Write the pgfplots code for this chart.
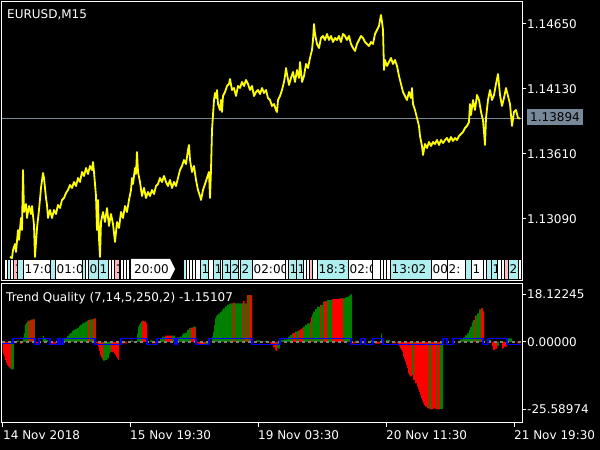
\documentclass[border=0pt]{standalone}
\usepackage{pgfplots}
\pgfplotsset{compat=1.18}
\usepackage{fontspec}
\setmainfont{DejaVu Sans}
\definecolor{mtgreen}{HTML}{008000}
\definecolor{mtred}{HTML}{FF0000}
\definecolor{mtblue}{HTML}{0000FF}
\definecolor{slate}{HTML}{778899}
\definecolor{pturq}{HTML}{AFEEEE}
\definecolor{lpink}{HTML}{FFB6C1}
\definecolor{mtyellow}{HTML}{FFFF00}
\newcommand{\mtfont}{\fontsize{12}{14}\selectfont}
\newcommand{\mtbox}[4]{%
 \begin{scope}
 \clip (#1pt,171pt) rectangle (#2pt,191pt);
 \fill[#3] (#1pt,171pt) rectangle (#2pt,191pt);
 \node[anchor=base west, inner sep=0pt, font=\mtfont, text=black] at (#1pt+1.5pt,176pt) {#4};
 \end{scope}
 \draw[black, line width=0.8pt] (#1pt,171pt) rectangle (#2pt,191pt);}
\begin{document}
\begin{tikzpicture}
\fill[black] (0,0) rectangle (600pt,450pt);
% ---------------- main price panel
\begin{axis}[
  at={(2pt,169pt)}, anchor=south west, scale only axis,
  width=520pt, height=279pt,
  xmin=2, xmax=522, ymin=1.12594, ymax=1.14826,
  axis line style={white, line width=1pt},
  xtick=\empty,
  ytick={1.1309,1.1361,1.1413,1.1465},
  yticklabels={1.13090,1.13610,1.14130,1.14650},
  ytick pos=right, yticklabel pos=right,
  tick align=outside, major tick length=4pt,
  tick style={white, line width=1pt},
  yticklabel style={font=\mtfont, text=white, anchor=west, inner sep=0pt, xshift=1pt},
]
\addplot[slate, line width=1pt] coordinates {(2,1.13894) (522,1.13894)};
\addplot[mtyellow, line width=1.8pt, line join=round] coordinates {
(10,1.12786)(12,1.12778)(13,1.12842)(15,1.12890)(16,1.12826)(18,1.13002)(19,1.12922)(21,1.13098)(22,1.13002)(23,1.13482)
(24,1.13146)(26,1.13210)(27,1.13098)(29,1.13194)(31,1.13130)(32,1.13194)(34,1.13042)(35,1.12786)(37,1.13018)(39,1.13162)
(41,1.13338)(43,1.13458)(44,1.13418)(46,1.13258)(47,1.13202)(48,1.13098)(50,1.13162)(52,1.13098)(54,1.13162)(56,1.13130)
(58,1.13202)(60,1.13178)(62,1.13242)(64,1.13258)(66,1.13298)(68,1.13322)(70,1.13362)(72,1.13338)(74,1.13386)(76,1.13354)
(78,1.13418)(80,1.13386)(82,1.13466)(84,1.13434)(86,1.13498)(88,1.13450)(90,1.13514)(92,1.13482)(93,1.13546)(94,1.13466)
(96,1.13274)(97,1.13002)(98,1.13242)(99,1.12938)(100,1.12786)(101,1.13066)(103,1.13146)(105,1.13066)(107,1.13178)(109,1.13034)
(111,1.13130)(113,1.13050)(115,1.12906)(117,1.13066)(119,1.13018)(121,1.13146)(123,1.13098)(125,1.13194)(127,1.13146)(129,1.13242)
(131,1.13322)(132,1.13418)(133,1.13370)(135,1.13498)(136,1.13450)(137,1.13626)(138,1.13466)(140,1.13386)(142,1.13274)(144,1.13338)
(146,1.13258)(148,1.13306)(150,1.13274)(152,1.13322)(154,1.13290)(156,1.13354)(158,1.13370)(160,1.13418)(162,1.13386)(164,1.13434)
(166,1.13386)(168,1.13354)(170,1.13402)(172,1.13338)(174,1.13386)(176,1.13354)(178,1.13418)(180,1.13482)(182,1.13514)(184,1.13562)
(186,1.13530)(188,1.13642)(189,1.13682)(190,1.13562)(192,1.13466)(194,1.13514)(196,1.13402)(198,1.13322)(200,1.13274)(201,1.13242)
(203,1.13322)(205,1.13370)(207,1.13418)(209,1.13466)(210,1.13258)(211,1.13482)(212,1.13802)(213,1.13922)(214,1.14042)(215,1.14098)
(216,1.14058)(217,1.14122)(218,1.14010)(220,1.13962)(221,1.14042)(222,1.13946)(223,1.14074)(225,1.14106)(227,1.14154)(229,1.14170)
(230,1.14210)(232,1.14122)(234,1.14138)(236,1.14074)(238,1.14154)(240,1.14138)(242,1.14186)(244,1.14154)(246,1.14202)(248,1.14170)
(250,1.14122)(252,1.14154)(254,1.14074)(256,1.14106)(258,1.14122)(260,1.14090)(262,1.14138)(264,1.14098)(266,1.14122)(268,1.14058)
(270,1.14042)(272,1.13994)(274,1.14010)(276,1.13962)(277,1.13946)(278,1.14042)(280,1.14074)(282,1.14122)(284,1.14186)(285,1.14234)
(286,1.14298)(287,1.14250)(289,1.14162)(291,1.14218)(293,1.14266)(295,1.14186)(297,1.14282)(299,1.14218)(300,1.14346)(302,1.14186)
(304,1.14234)(306,1.14330)(308,1.14298)(310,1.14378)(312,1.14442)(313,1.14522)(314,1.14650)(315,1.14570)(317,1.14490)(319,1.14458)
(321,1.14538)(323,1.14554)(325,1.14522)(327,1.14570)(329,1.14522)(331,1.14554)(333,1.14506)(335,1.14538)(337,1.14522)(339,1.14554)
(341,1.14506)(343,1.14570)(345,1.14554)(347,1.14522)(349,1.14554)(351,1.14490)(353,1.14458)(355,1.14434)(357,1.14490)(359,1.14522)
(361,1.14554)(363,1.14538)(365,1.14506)(367,1.14490)(369,1.14474)(371,1.14506)(373,1.14490)(375,1.14570)(377,1.14602)(379,1.14634)
(380,1.14682)(381,1.14722)(382,1.14666)(383,1.14602)(384,1.14282)(385,1.14362)(387,1.14314)(389,1.14346)(391,1.14378)(393,1.14330)
(395,1.14362)(397,1.14314)(399,1.14234)(401,1.14170)(403,1.14106)(405,1.14074)(407,1.14042)(409,1.14106)(411,1.14058)(412,1.14138)
(413,1.14010)(415,1.13962)(417,1.13898)(419,1.13834)(420,1.13754)(422,1.13674)(423,1.13602)(425,1.13690)(427,1.13658)(429,1.13706)
(431,1.13674)(433,1.13706)(435,1.13690)(437,1.13722)(439,1.13682)(441,1.13722)(443,1.13698)(445,1.13722)(447,1.13738)(449,1.13706)
(451,1.13746)(453,1.13714)(455,1.13738)(457,1.13722)(459,1.13754)(461,1.13770)(463,1.13786)(465,1.13818)(467,1.13834)(469,1.13866)
(470,1.14010)(471,1.13922)(473,1.14042)(475,1.13962)(477,1.14082)(479,1.14042)(481,1.13946)(483,1.13882)(484,1.13786)(485,1.13682)
(486,1.13898)(488,1.14042)(490,1.14122)(492,1.14042)(494,1.14082)(496,1.14170)(498,1.14250)(500,1.14082)(502,1.13994)(504,1.14058)
(506,1.14138)(508,1.14074)(510,1.14010)(512,1.13834)(514,1.13946)(516,1.13962)(518,1.13898)(520,1.13894)};
\end{axis}
% ---------------- indicator panel
\begin{axis}[
  at={(2pt,27pt)}, anchor=south west, scale only axis,
  width=520pt, height=140pt,
  xmin=2, xmax=522, ymin=-30.78, ymax=22.42,
  axis line style={white, line width=1pt},
  xtick={3,130,258,386,514},
  xticklabels={14 Nov 2018,15 Nov 19:30,19 Nov 03:30,20 Nov 11:30,21 Nov 19:30},
  xtick pos=bottom,
  xticklabel style={font=\mtfont, text=white, anchor=north west, inner sep=0pt, yshift=-3pt},
  ytick={-25.58974,0,18.12245},
  yticklabels={-25.58974,0.00000,18.12245},
  ytick pos=right, yticklabel pos=right,
  tick align=outside, major tick length=4pt,
  tick style={white, line width=1pt},
  yticklabel style={font=\mtfont, text=white, anchor=west, inner sep=0pt, xshift=1pt},
]
\addplot[const plot, fill=mtgreen, draw=none] coordinates {
(11,-10.4)(14,0)(16,0.5)(19,0)(23,1.8)(24,3.3)(25,6.5)(26,7.2)(27,7.7)(28,8.0)(30,8.4)(32,8.5)(33,8.6)(35,0)
(43,2.3)(44,1.5)(46,0.8)(48,0)(63,1.0)(65,1.6)(67,2.3)(69,3.0)(70,3.5)(72,4.1)(73,4.6)(75,5.0)(77,5.4)(79,6.0)
(80,6.5)(82,7.0)(83,7.3)(85,7.7)(87,8.1)(89,8.4)(90,8.6)(93,8.8)(95,9.0)(96,0)(103,-7.1)(105,-6.8)(107,-6.2)
(109,-4.5)(110,-3.7)(111,0)(130,0.5)(133,0)(137,3.3)(138,5.8)(139,6.6)(140,7.3)(141,7.7)(142,8.0)(144,7.7)(146,7.0)
(147,0)(150,0.6)(152,0)(160,1.2)(162,2.0)(165,2.2)(172,2.4)(175,0)(177,1.8)(180,2.0)(182,2.8)(183,3.3)(185,3.6)
(187,4.6)(189,5.2)(190,5.4)(193,5.8)(196,0)(205,-1.1)(208,0)(212,2.0)(213,3.9)(214,6.5)(215,9.0)(216,9.8)(217,10.3)
(218,10.8)(220,11.5)(222,12.3)(223,12.8)(225,13.5)(227,14.1)(229,14.5)(230,14.7)(247,17.8)(252,0)(256,0.6)(260,0)
(265,0.4)(268,0)(277,-2.4)(280,0.8)(284,1.0)(288,2.0)(290,2.6)(292,3.3)(295,3.9)(297,4.2)(300,4.6)(303,5.8)(305,6.5)
(307,7.1)(310,7.7)(311,9.0)(312,10.5)(313,11.5)(315,12.5)(317,13.4)(320,14.1)(323,15.3)(327,15.9)(333,16.3)(340,16.6)
(345,17.0)(347,17.2)(349,17.6)(350,18.12245)(352,0)(355,0.5)(358,0)(370,0.6)(373,0)(381,3.3)(382,0)(386,0.8)(390,0)
(460,1.0)(463,1.8)(465,2.5)(467,3.3)(469,4.5)(470,5.8)(472,7.5)(473,8.4)(475,10.0)(477,10.9)(479,12.4)(481,12.8)
(483,11.5)(484,0)(489,0.8)(491,0)(497,-1.5)(499,0)(508,1.4)(512,0)} \closedcycle;
\addplot[const plot, fill=mtred, draw=none] coordinates {
(3,-4.4)(4,-5.5)(5,-6.8)(6,-7.8)(7,-8.7)(8,-9.2)(9,-9.6)(10,-10.0)(11,0)
(14,-0.4)(17,0)(20,-0.6)(22,0)(28,8.1)(29.5,0)(31,8.5)(32.5,0)(33,8.6)(34.5,0)
(36,-0.5)(41,0)(50,-0.6)(56,0)(88,8.3)(89.5,0)(93,8.9)(95.5,0)
(96,-0.5)(98,-1.8)(99,-3.5)(100,-4.9)(101,-5.8)(102,-6.6)(103,0)
(111,-3.9)(113,-3.7)(114,-4.3)(115,-4.9)(116,-5.6)(117,-6.2)(118,-6.8)(119,0)
(122,-0.5)(127,0)(142,8.0)(144,7.7)(146,7.0)(147,0)(152,-0.5)(157,0)(165,2.4)(172,0)(191,5.5)(195,0)
(197,-0.5)(199,-0.9)(202,-1.1)(205,0)(233,15.0)(234.5,0)(243,15.5)(244.5,0)(247,17.8)(248.5,0)(250,17.8)(252,0)
(270,-0.5)(271,-1.1)(273,-2.0)(275,-3.0)(276,-3.4)(277,0)(293,3.5)(296,0)(299,4.6)(301,5.0)(302,5.4)(303,0)
(311,9.5)(312,0)(320,14.1)(321,0)(324,15.4)(327,0)(332,16.3)(338,16.4)(340,16.6)(343,0)
(352,-0.5)(356,0)(362,-0.5)(365,0)(375,-0.6)(380,0)(392,-0.5)(396,0)
(397,-0.4)(398,-1.1)(399,-1.7)(400,-2.4)(401,-3.0)(402,-3.7)(403,-5.6)(404,-6.5)(405,-7.5)(406,-8.7)(407,-10.0)
(408,-11.9)(409,-12.6)(410,-13.2)(411,-13.0)(412,-12.5)(413,-14.4)(415,-15.7)(417,-17.0)(418,-18.0)(419,-19.0)
(420,-20.1)(421,-21.2)(422,-22.3)(423,-23.3)(424,-24.0)(425,-24.6)(427,-25.2)(430,-25.6)(433,-25.2)(435,-25.4)
(437,-25.58974)(440,0)(475,10.0)(476,0)(481,12.8)(483,11.5)(484,0)
(492,-1.5)(493,-3.0)(495,-2.5)(497,0)(502,-2.4)(504,-1.8)(507,0)(517,-0.5)(520,0)} \closedcycle;
\addplot[const plot, fill=mtgreen, draw=none] coordinates {
(412,-12.5)(413.5,0)(429,-25.3)(431,0)(436,-25.3)(437,0)(440,-25.4)(443,0)} \closedcycle;
\addplot[gray, line width=1.2pt, dash pattern=on 3pt off 3pt] coordinates {(2,0) (522,0)};
\addplot[const plot, mtblue, line width=1.6pt] coordinates {
(2,-0.5)(13,1.4)(35,-0.9)(39,1.4)(50,-0.9)(58,1.4)(60,-0.9)(63,1.4)(95,-0.9)(121,1.4)(147,-0.9)(157,1.4)
(175,-0.9)(177,1.4)(196,-0.9)(209,1.4)(252,-0.9)(280,1.4)(351,-0.9)(361,1.4)(365,-0.9)(373,1.4)(383,-0.9)
(443,1.4)(447,-0.9)(453,1.4)(483,-0.9)(488,1.4)(507,-0.9)(522,-0.9)};
\end{axis}
% ---------------- texts and object labels
\node[anchor=base west, inner sep=0pt, font=\mtfont, text=white] at (7pt,431.7pt) {EURUSD,M15};
\node[anchor=base west, inner sep=0pt, font=\mtfont, text=white] at (6pt,148.3pt) {Trend Quality (7,14,5,250,2) -1.15107};
\node[fill=slate, text=black, font=\mtfont, inner xsep=3pt, inner ysep=0pt, minimum height=16pt, anchor=west] at (527pt,333pt) {1.13894};
\mtbox{4}{7}{white}{}\mtbox{7}{10}{pturq}{}\mtbox{10}{13}{white}{}\mtbox{13}{17}{lpink}{1}\mtbox{17}{23}{pturq}{}
\mtbox{23}{50}{white}{17:0}\mtbox{50}{55}{pturq}{}\mtbox{55}{82}{white}{01:0}\mtbox{82}{85}{pturq}{}\mtbox{85}{88}{white}{}
\mtbox{88}{98}{pturq}{0}\mtbox{98}{108}{pturq}{1}\mtbox{108}{111}{white}{}\mtbox{111}{114}{white}{}\mtbox{114}{119}{lpink}{1}
\mtbox{120}{123}{white}{}\mtbox{123}{126}{white}{}\mtbox{126}{129}{white}{}
\fill[white] (131pt,171pt) -- (170pt,171pt) -- (175pt,181pt) -- (170pt,191pt) -- (131pt,191pt) -- cycle;
\node[anchor=base west, inner sep=0pt, font=\mtfont, text=black] at (134pt,176pt) {20:00};
\mtbox{183}{186}{pturq}{}\mtbox{186}{189}{white}{}\mtbox{189}{192}{white}{}\mtbox{192}{195}{white}{}\mtbox{195}{200}{white}{}
\mtbox{200}{208}{pturq}{1}\mtbox{208}{213}{white}{}\mtbox{213}{220}{pturq}{1}\mtbox{220}{222}{white}{}\mtbox{222}{230}{pturq}{1}
\mtbox{230}{238}{pturq}{2}\mtbox{238}{240}{white}{}\mtbox{240}{252}{pturq}{2}\mtbox{252}{285}{white}{02:00}\mtbox{285}{288}{white}{}
\mtbox{288}{296}{pturq}{1}\mtbox{296}{303}{pturq}{1}\mtbox{303}{306}{white}{}\mtbox{306}{309}{white}{}\mtbox{309}{312}{lpink}{}
\mtbox{312}{317}{white}{}\mtbox{317}{348}{pturq}{18:3}\mtbox{348}{372}{white}{02:0}\mtbox{372}{380}{white}{}\mtbox{380}{383}{white}{}
\mtbox{383}{386}{white}{}\mtbox{386}{390}{white}{}\mtbox{390}{431}{pturq}{13:02}\mtbox{431}{447}{white}{00}\mtbox{447}{465}{white}{2:}
\mtbox{465}{471}{pturq}{}\mtbox{471}{483}{white}{1}\mtbox{483}{486}{white}{}\mtbox{486}{491}{pturq}{}\mtbox{491}{497}{pturq}{1}
\mtbox{497}{501}{white}{}\mtbox{501}{504}{white}{}\mtbox{504}{508}{lpink}{}\mtbox{508}{518}{pturq}{2}\mtbox{518}{521}{white}{}
\pgfresetboundingbox
\useasboundingbox (0,0) rectangle (600pt,450pt);
\end{tikzpicture}
\end{document}
